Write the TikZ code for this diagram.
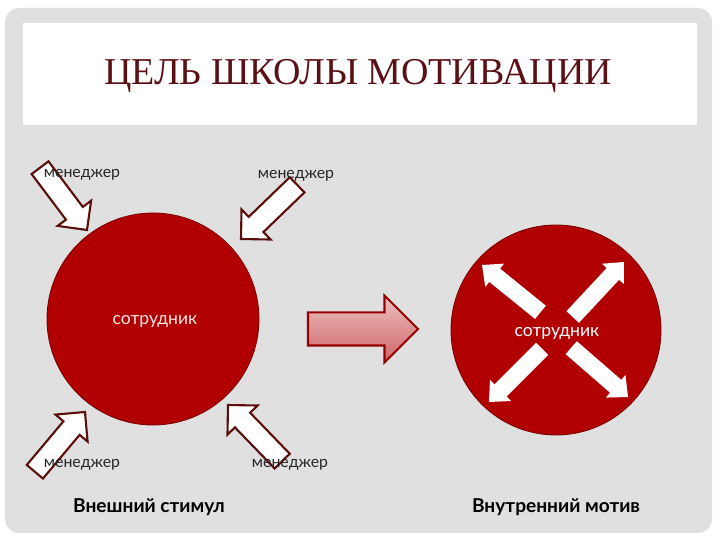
\documentclass[tikz,border=0pt]{standalone}
\usepackage{fontspec}
\setmainfont{Liberation Serif}
\newfontfamily\labelfont{Lato}
\usetikzlibrary{shapes.arrows,positioning}
\definecolor{fon}{HTML}{E0E0E0}
\definecolor{krug}{HTML}{B00000}
\definecolor{kaima}{HTML}{5A0F0A}
\definecolor{titolo}{HTML}{5A1015}
\tikzstyle{krugnode} = [circle, fill=krug, draw=krug!70!black, line width=0.6pt, inner sep=0pt]
\tikzstyle{freccia} = [single arrow, anchor=tip, inner xsep=0pt, inner ysep=0.2375cm, outer sep=0pt, minimum height=1.95cm,
single arrow head extend=0.26cm, single arrow tip angle=90, fill=white, draw=kaima, line width=1.5pt]
\tikzstyle{frecciain} = [freccia, draw=none, inner ysep=0.1875cm, minimum height=1.88cm, single arrow head extend=0.16cm, single arrow tip angle=85]
\tikzstyle{etichetta} = [font=\labelfont\fontsize{11.3}{13}\selectfont, text=black!85, inner sep=0pt]
\tikzstyle{collega} = [font=\labelfont\fontsize{12.5}{14}\selectfont, inner sep=0pt]
\tikzstyle{grassetto} = [font=\labelfont\bfseries\fontsize{13.6}{16}\selectfont, text=black, inner sep=0pt]

\begin{document}
\begin{tikzpicture}
	\useasboundingbox (0,0) rectangle (18,13.5);
	\fill[white] (0,0) rectangle (18,13.5);
	\fill[fon, rounded corners=0.35cm] (0.125,0.175) rectangle (17.8,13.3);
	\fill[white] (0.575,10.375) rectangle (17.425,12.925);
	\node[text=titolo, font=\fontsize{27}{32}\selectfont, inner sep=0pt] (titolo) at (8.95,11.6) {ЦЕЛЬ ШКОЛЫ МОТИВАЦИИ};
	\node (sin) at (3.825,5.525) [krugnode, minimum size=5.3cm] {};
	\node (des) at (13.9,5.25) [krugnode, minimum size=5.25cm] {};
	% frecce esterne
	\node (fa) at (2.175,7.75) [freccia, rotate=-53] {};
	\node (fb) at (6.025,7.525) [freccia, rotate=224] {};
	\node (fc) at (2.125,3.2) [freccia, rotate=50] {};
	\node (fd) at (5.7,3.375) [freccia, rotate=134] {};
	% frecce interne
	\node (ia) at (12.05,6.875) [frecciain, rotate=141] {};
	\node (ib) at (15.6,6.95) [frecciain, rotate=47] {};
	\node (ic) at (12.225,3.45) [frecciain, rotate=225] {};
	\node (id) at (15.7,3.575) [frecciain, rotate=-41] {};
	\node (centro) at (10.45,5.275) [freccia, inner ysep=0.3875cm, minimum height=2.75cm, single arrow head extend=0.425cm,
		top color=krug!25, bottom color=krug!60, draw=krug!85!black] {};
	\node (ma) at (2.05,9.125) [etichetta] {менеджер};
	\node (mb) at (7.4,9.1) [etichetta] {менеджер};
	\node (mc) at (2.05,1.875) [etichetta] {менеджер};
	\node (md) at (7.25,1.875) [etichetta] {менеджер};
	\node (sa) at (3.875,5.45) [collega, text=red!10!white] {сотрудник};
	\node (sb) at (13.925,5.15) [collega, text=white] {сотрудник};
	\node (va) at (3.725,0.82) [grassetto] {Внешний стимул};
	\node (vb) at (13.9,0.82) [grassetto] {Внутренний мотив};
\end{tikzpicture}
\end{document}
